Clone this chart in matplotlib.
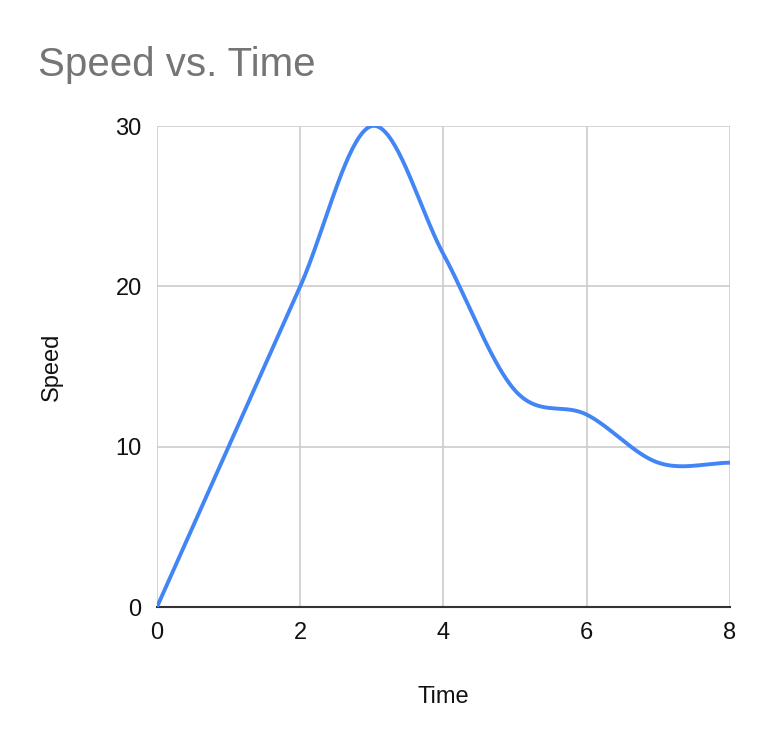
import numpy as np
import matplotlib
matplotlib.use("Agg")
import matplotlib.pyplot as plt

plt.rcParams['font.family'] = ['Liberation Sans', 'DejaVu Sans']

time = [0, 1, 2, 3, 4, 5, 6, 7, 8]
speed = [0, 10, 20, 30, 22, 13.5, 12, 9, 9]
x_ticks = [0, 2, 4, 6, 8]
y_ticks = [0, 10, 20, 30]


def catmull_rom(xs, ys, n=40):
    xs = np.asarray(xs, float)
    ys = np.asarray(ys, float)
    px = np.concatenate([[2 * xs[0] - xs[1]], xs, [2 * xs[-1] - xs[-2]]])
    py = np.concatenate([[2 * ys[0] - ys[1]], ys, [2 * ys[-1] - ys[-2]]])
    out_x, out_y = [], []
    t = np.linspace(0, 1, n, endpoint=False)
    for i in range(1, len(px) - 2):
        for arr, out in ((px, out_x), (py, out_y)):
            p0, p1, p2, p3 = arr[i - 1], arr[i], arr[i + 1], arr[i + 2]
            m1 = (p2 - p0) / 2
            m2 = (p3 - p1) / 2
            h00 = 2 * t**3 - 3 * t**2 + 1
            h10 = t**3 - 2 * t**2 + t
            h01 = -2 * t**3 + 3 * t**2
            h11 = t**3 - t**2
            out.extend(h00 * p1 + h10 * m1 + h01 * p2 + h11 * m2)
    out_x.append(xs[-1])
    out_y.append(ys[-1])
    return np.array(out_x), np.array(out_y)


fig = plt.figure(figsize=(7.68, 7.52), dpi=100)
ax = fig.add_axes([0.2044, 0.1928, 0.7461, 0.6396])

sx, sy = catmull_rom(time, speed)
ax.plot(sx, sy, color='#4285F4', lw=2.8, solid_capstyle='round', zorder=3)

ax.set_xlim(0, 8)
ax.set_ylim(0, 30)
ax.set_xticks(x_ticks)
ax.set_yticks(y_ticks)
ax.grid(True, color='#cccccc', lw=1.2)
ax.set_axisbelow(True)
for s in ['top', 'right', 'left']:
    ax.spines[s].set_visible(False)
ax.spines['bottom'].set_color('#333333')
ax.spines['bottom'].set_linewidth(1.5)
ax.tick_params(length=0, labelsize=17, colors='#111111')
ax.tick_params(axis='y', pad=11)
ax.tick_params(axis='x', pad=11)

ax.set_xlabel('Time', fontsize=17, color='#111111', labelpad=30)
ax.set_ylabel('Speed', fontsize=17, color='#111111', labelpad=38)

fig.text(38 / 768, 1 - 65 / 752, 'Speed vs. Time', fontsize=29, color='#757575',
         ha='left', va='center')

fig.savefig('out.png', dpi=100)
